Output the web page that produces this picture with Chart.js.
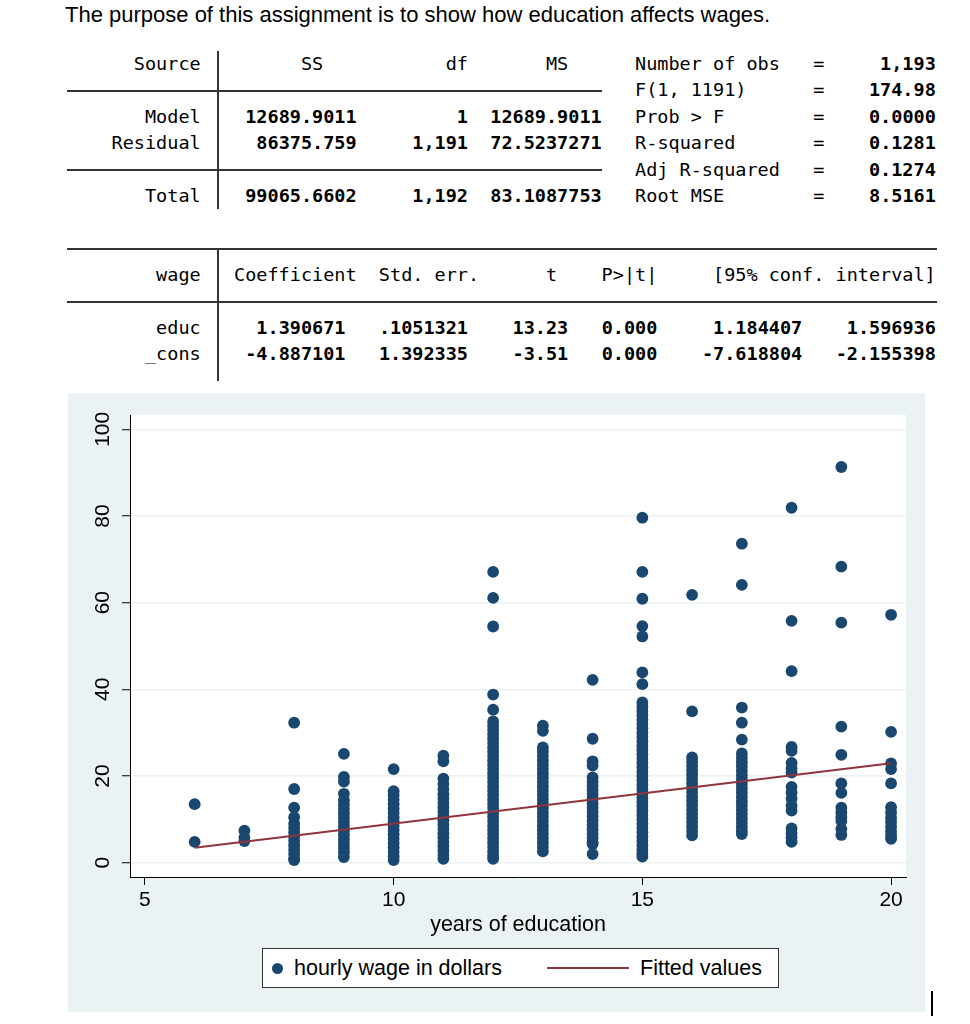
<!DOCTYPE html>
<html>
<head>
<meta charset="utf-8">
<title>Education and wages</title>
<script src="https://cdn.jsdelivr.net/npm/chart.js@4.4.1/dist/chart.umd.min.js"></script>
<style>
    body {
        margin: 0;
        width: 970px;
        height: 1024px;
        background: #fff;
        position: relative;
        overflow: hidden;
    }
    .title {
        position: absolute;
        left: 65px;
        top: 2px;
        font: 22px "Liberation Sans", Arial, sans-serif;
        line-height: 26px;
        color: #000;
        white-space: nowrap;
    }
    pre.stata {
        position: absolute;
        left: 67px;
        top: 51px;
        margin: 0;
        font-family: "DejaVu Sans Mono", monospace;
        font-size: 18.5px;
        line-height: 26.4px;
        color: #000;
    }
    pre.stata b { font-weight: bold; }
    .rule {
        position: absolute;
        height: 2px;
        background: #333;
    }
    .bar {
        position: absolute;
        width: 1.5px;
        left: 217px;
        background: #333;
    }
    #panel {
        position: absolute;
        left: 68px;
        top: 393px;
        background: #eaf2f3;
    }
    .legend {
        position: absolute;
        left: 262px;
        top: 948px;
        width: 517px;
        height: 40px;
        box-sizing: border-box;
        border: 1px solid #333;
        background: #fff;
        font: 21.5px "Liberation Sans", Arial, sans-serif;
        line-height: 38px;
        color: #000;
    }
    .legend span { position: absolute; white-space: nowrap; }
    .legend .dot {
        left: 9px;
        top: 14px;
        width: 11px;
        height: 11px;
        border-radius: 50%;
        background: #1a476f;
    }
    .legend .swatch {
        left: 284px;
        top: 18px;
        width: 82px;
        height: 2px;
        background: #90353b;
    }
    .cursor {
        position: absolute;
        left: 931px;
        top: 991px;
        width: 2px;
        height: 25px;
        background: #000;
    }
</style>
</head>
<body>

<div class="title">The purpose of this assignment is to show how education affects wages.</div>

<pre class="stata">      Source         SS           df       MS      Number of obs   =     <b>1,193</b>
                                                   F(1, 1191)      =    <b>174.98</b>
       Model    <b>12689.9011</b>         <b>1</b>  <b>12689.9011</b>   Prob > F        =    <b>0.0000</b>
    Residual     <b>86375.759</b>     <b>1,191</b>  <b>72.5237271</b>   R-squared       =    <b>0.1281</b>
                                                   Adj R-squared   =    <b>0.1274</b>
       Total    <b>99065.6602</b>     <b>1,192</b>  <b>83.1087753</b>   Root MSE        =    <b>8.5161</b>


        wage   Coefficient  Std. err.      t    P>|t|     [95% conf. interval]

        educ     <b>1.390671</b>   <b>.1051321</b>    <b>13.23</b>   <b>0.000</b>     <b>1.184407</b>    <b>1.596936</b>
       _cons    <b>-4.887101</b>   <b>1.392335</b>    <b>-3.51</b>   <b>0.000</b>    <b>-7.618804</b>   <b>-2.155398</b></pre>

<!-- table rules -->
<div class="rule" style="left:67px; top:89.6px; width:535px;"></div>
<div class="rule" style="left:67px; top:168.8px; width:535px;"></div>
<div class="rule" style="left:67px; top:248px; width:870px;"></div>
<div class="rule" style="left:67px; top:300.8px; width:870px;"></div>
<div class="bar" style="top:51px; height:158px;"></div>
<div class="bar" style="top:249px; height:132px;"></div>

<canvas id="panel" width="857" height="619"></canvas>

<div class="legend">
    <span class="dot"></span>
    <span style="left:31px;">hourly wage in dollars</span>
    <span class="swatch"></span>
    <span style="left:377px;">Fitted values</span>
</div>

<div class="cursor"></div>

<script>
// Years of education (x) and hourly wages, one column per year
const educYears = [6, 7, 8, 9, 10, 11, 12, 13, 14, 15, 16, 17, 18, 19, 20];

const wageEduc6 = [13.5, 4.8];
const wageEduc7 = [7.4, 5.8, 5.0];
const wageEduc8 = [32.3, 17.0, 12.7, 10.5, 9.0, 8.0, 7.0, 6.0, 5.0, 4.0, 3.0, 2.0, 1.0, 0.6];
const wageEduc9 = [25.1, 19.8, 18.7, 15.9, 14.4, 13.4, 12.4, 11.4, 10.4, 9.4, 8.4, 7.4, 6.4, 5.4, 4.4, 3.4, 2.4, 1.3];
const wageEduc10 = [21.6, 16.5, 15.5, 14.5, 13.5, 12.5, 11.5, 10.5, 9.5, 8.5, 7.5, 6.5, 5.5, 4.5, 3.5, 2.5, 1.5, 0.6];
const wageEduc11 = [24.7, 23.4, 19.4, 18.2, 17.0, 15.8, 14.8, 13.8, 12.8, 11.8, 10.8, 9.8, 8.8, 7.8, 6.8, 5.8, 4.8, 3.8, 2.8, 1.8, 0.9];
const wageEduc12 = [67.1, 61.1, 54.5, 38.8, 35.3, 32.6, 31.6, 30.6, 29.6, 28.6, 27.6, 26.6, 25.6, 24.6, 23.6, 22.6,
    21.6, 20.6, 19.6, 18.6, 17.6, 16.6, 15.6, 14.6, 13.6, 12.6, 11.6, 10.6, 9.6, 8.6, 7.6, 6.6, 5.6, 4.6, 3.6, 2.6, 1.6, 0.9];
const wageEduc13 = [31.6, 30.4, 26.6, 25.6, 24.6, 23.6, 22.6, 21.6, 20.6, 19.6, 18.6, 17.6, 16.6, 15.6, 14.6, 13.6,
    12.6, 11.6, 10.6, 9.6, 8.6, 7.6, 6.6, 5.6, 4.6, 3.6, 2.6];
const wageEduc14 = [42.2, 28.6, 23.4, 22.4, 19.7, 18.7, 17.7, 16.7, 15.7, 14.7, 13.7, 12.7, 11.7, 10.7, 9.7, 8.7,
    7.7, 6.7, 5.7, 4.7, 4.3, 2.0];
const wageEduc15 = [79.6, 67.1, 60.9, 54.6, 52.2, 43.9, 41.2, 37.0, 36.0, 35.0, 34.0, 33.0, 32.0, 31.0, 30.0, 29.0,
    28.0, 27.0, 26.0, 25.0, 24.0, 23.0, 22.0, 21.0, 20.0, 19.0, 18.0, 17.0, 16.0, 15.0, 14.0, 13.0, 12.0, 11.0,
    10.0, 9.0, 8.0, 7.0, 6.0, 5.0, 4.0, 3.0, 2.0, 1.4];
const wageEduc16 = [61.8, 34.9, 24.3, 23.3, 22.3, 21.3, 20.3, 19.3, 18.3, 17.3, 16.3, 15.3, 14.3, 13.3, 12.3, 11.3,
    10.3, 9.3, 8.3, 7.3, 6.3];
const wageEduc17 = [73.6, 64.1, 35.8, 32.3, 28.4, 25.2, 24.2, 23.2, 22.2, 21.2, 20.2, 19.2, 18.2, 17.2, 16.2, 15.2,
    14.2, 13.2, 12.2, 11.2, 10.2, 9.2, 8.2, 7.2, 6.6];
const wageEduc18 = [81.9, 55.8, 44.2, 26.7, 25.8, 23.0, 21.8, 20.8, 17.5, 16.2, 14.8, 13.2, 12.0, 7.9, 6.8, 5.8, 4.8];
const wageEduc19 = [91.3, 68.3, 55.4, 31.4, 24.9, 18.3, 16.1, 12.7, 11.6, 10.5, 9.6, 7.8, 6.4];
const wageEduc20 = [57.2, 30.2, 22.9, 21.6, 18.3, 12.8, 11.6, 10.4, 9.4, 8.3, 7.2, 6.2, 5.5];

const wageColumns = [wageEduc6, wageEduc7, wageEduc8, wageEduc9, wageEduc10, wageEduc11, wageEduc12,
    wageEduc13, wageEduc14, wageEduc15, wageEduc16, wageEduc17, wageEduc18, wageEduc19, wageEduc20];

// Fitted values at the two ends of the education range
const fittedEduc = [6, 20];
const fittedWage = [3.457, 22.926];

// Axis ticks
const xTicks = [5, 10, 15, 20];
const yTicks = [0, 20, 40, 60, 80, 100];

const NAVY = '#1a476f';
const MAROON = '#90353b';

/**
 * Paint the white plot region behind the marks
 */
const plotRegion = {
    id: 'plotRegion',
    beforeDraw(chart) {
        const { ctx, chartArea } = chart;
        ctx.save();
        ctx.fillStyle = '#ffffff';
        ctx.fillRect(chartArea.left, chartArea.top, chartArea.right - chartArea.left, chartArea.bottom - chartArea.top);
        ctx.restore();
    }
};

function createWageChart(canvasId) {
    const canvas = document.getElementById(canvasId);
    if (!canvas) return null;

    const scatterData = [];
    educYears.forEach((educ, i) => {
        wageColumns[i].forEach(w => scatterData.push({ x: educ, y: w }));
    });
    const fittedData = fittedEduc.map((educ, i) => ({ x: educ, y: fittedWage[i] }));

    const tickFont = { family: 'Liberation Sans', size: 21 };

    return new Chart(canvas.getContext('2d'), {
        type: 'scatter',
        data: {
            datasets: [
                {
                    label: 'hourly wage in dollars',
                    data: scatterData,
                    backgroundColor: NAVY,
                    borderWidth: 0,
                    pointRadius: 5.9,
                    pointHoverRadius: 5.9,
                    order: 2
                },
                {
                    label: 'Fitted values',
                    data: fittedData,
                    showLine: true,
                    borderColor: MAROON,
                    borderWidth: 2,
                    pointRadius: 0,
                    order: 1
                }
            ]
        },
        options: {
            responsive: false,
            animation: false,
            devicePixelRatio: 1,
            layout: {
                padding: { left: 0, top: 22, right: 19, bottom: 65 }
            },
            plugins: {
                legend: { display: false },
                tooltip: { enabled: false }
            },
            scales: {
                x: {
                    type: 'linear',
                    min: 4.7,
                    max: 20.3,
                    afterBuildTicks: scale => { scale.ticks = xTicks.map(v => ({ value: v })); },
                    afterFit: scale => { scale.height = 70; },
                    border: { display: true, color: '#000', width: 1 },
                    grid: {
                        drawOnChartArea: false,
                        drawTicks: true,
                        tickLength: 8,
                        tickColor: '#000'
                    },
                    ticks: {
                        color: '#000',
                        font: tickFont,
                        padding: 3,
                        maxRotation: 0
                    },
                    title: {
                        display: true,
                        text: 'years of education',
                        color: '#000',
                        font: { family: 'Liberation Sans', size: 21.5 },
                        padding: { top: 0, bottom: 9 }
                    }
                },
                y: {
                    type: 'linear',
                    min: -3.3,
                    max: 103.3,
                    afterBuildTicks: scale => { scale.ticks = yTicks.map(v => ({ value: v })); },
                    afterFit: scale => { scale.width = 62; },
                    border: { display: true, color: '#000', width: 1 },
                    grid: {
                        color: '#eaf2f3',
                        lineWidth: 1.5,
                        tickLength: 8,
                        tickColor: '#000',
                        tickWidth: 1
                    },
                    ticks: {
                        color: '#000',
                        font: tickFont,
                        padding: 1,
                        minRotation: 90,
                        maxRotation: 90,
                        crossAlign: 'center'
                    }
                }
            }
        },
        plugins: [plotRegion]
    });
}

createWageChart('panel');
</script>
</body>
</html>
